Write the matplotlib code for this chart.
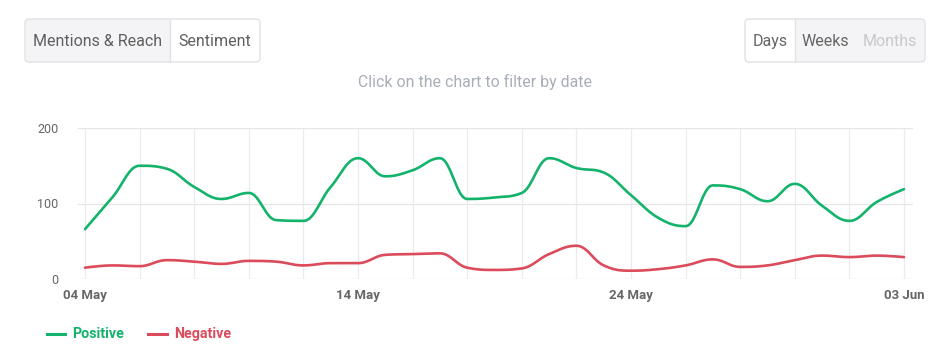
import numpy as np
import matplotlib
matplotlib.use("Agg")
import matplotlib.pyplot as plt
from matplotlib.patches import FancyBboxPatch, Rectangle

plt.rcParams['font.family'] = ['Roboto', 'DejaVu Sans']

# daily values, 04 May .. 03 Jun
days = np.arange(31)
positive = [66, 108, 150, 146, 122, 106, 114, 78, 77, 122, 160,
            136, 144, 160, 106, 108, 114, 160, 147, 141, 111,
            81, 70, 124, 119, 103, 126, 97, 77, 102, 119]
negative = [15, 18, 17, 25, 23, 20, 24, 23, 18, 21, 21,
            32, 33, 34, 15, 12, 14, 33, 44, 18, 11,
            13, 18, 26, 16, 18, 25, 31, 29, 31, 29]
tick_days = [0, 10, 20, 30]
tick_labels = ["04 May", "14 May", "24 May", "03 Jun"]
y_ticks = [0, 100, 200]

GREEN = "#14b36c"
RED = "#dc4b5b"


def spline(xs, ys, smoothing=1.5, n=24):
    # highcharts-like spline: bezier segments with smoothed control points
    xs = np.asarray(xs, float)
    ys = np.asarray(ys, float)
    m = len(xs)
    denom = smoothing + 1
    lc = [(xs[i], ys[i]) for i in range(m)]
    rc = [(xs[i], ys[i]) for i in range(m)]
    for i in range(1, m - 1):
        x, y = xs[i], ys[i]
        lx, ly = xs[i - 1], ys[i - 1]
        nx, ny = xs[i + 1], ys[i + 1]
        lcx = (smoothing * x + lx) / denom
        lcy = (smoothing * y + ly) / denom
        rcx = (smoothing * x + nx) / denom
        rcy = (smoothing * y + ny) / denom
        corr = (rcy - lcy) * (rcx - x) / (rcx - lcx) + y - rcy
        lcy += corr
        rcy += corr
        if lcy > ly and lcy > y:
            lcy = max(ly, y)
            rcy = 2 * y - lcy
        elif lcy < ly and lcy < y:
            lcy = min(ly, y)
            rcy = 2 * y - lcy
        if rcy > ny and rcy > y:
            rcy = max(ny, y)
            lcy = 2 * y - rcy
        elif rcy < ny and rcy < y:
            rcy = min(ny, y)
            lcy = 2 * y - rcy
        lc[i] = (lcx, lcy)
        rc[i] = (rcx, rcy)
    t = np.linspace(0, 1, n)[:, None]
    out = []
    for i in range(1, m):
        p0 = np.array([xs[i - 1], ys[i - 1]])
        p1 = np.array(rc[i - 1])
        p2 = np.array(lc[i])
        p3 = np.array([xs[i], ys[i]])
        seg = ((1 - t) ** 3) * p0 + 3 * ((1 - t) ** 2) * t * p1 + 3 * (1 - t) * t ** 2 * p2 + t ** 3 * p3
        out.append(seg if i == 1 else seg[1:])
    pts = np.vstack(out)
    return pts[:, 0], pts[:, 1]


W, H = 951, 358
fig = plt.figure(figsize=(W / 100, H / 100), dpi=100)

ax = fig.add_axes([78 / W, (H - 279) / H, (913 - 78) / W, 151 / H])
px = 27.3
ax.set_xlim(-7 / px, 30 + 9 / px)
ax.set_ylim(0, 200)

for d in range(0, 31, 2):
    ax.axvline(d, color="#ebebeb", lw=0.9, zorder=0)
for v in y_ticks:
    ax.axhline(v, color="#e6e6e6", lw=0.9, zorder=0)

gx, gy = spline(days, positive)
rx, ry = spline(days, negative)
ax.plot(gx, gy, color=GREEN, lw=1.9, solid_capstyle="round", zorder=3)
ax.plot(rx, ry, color=RED, lw=1.9, solid_capstyle="round", zorder=3)

for s in ax.spines.values():
    s.set_visible(False)
ax.set_xticks(tick_days)
ax.set_xticklabels(tick_labels, fontsize=9.5, fontweight="bold", color="#666666")
ax.set_yticks(y_ticks)
ax.set_yticklabels([str(v) for v in y_ticks], fontsize=9, color="#666666")
ax.tick_params(axis="x", length=0, pad=7)
ax.tick_params(axis="y", length=0, pad=14)

# overlay in pixel coordinates for the UI bits
ov = fig.add_axes([0, 0, 1, 1], zorder=-1)
ov.set_xlim(0, W)
ov.set_ylim(H, 0)
ov.axis("off")


def button_group(x0, x1, y0, y1, parts):
    for (a, b, label, bg, fg) in parts:
        ov.add_patch(Rectangle((a, y0), b - a, y1 - y0, facecolor=bg, edgecolor="none"))
        ov.text((a + b) / 2, (y0 + y1) / 2 + 1, label, ha="center", va="center",
                fontsize=11.5, color=fg)
    ov.add_patch(FancyBboxPatch((x0, y0), x1 - x0, y1 - y0,
                                boxstyle="round,pad=0,rounding_size=4",
                                facecolor="none", edgecolor="#e2e2e6", lw=1))


button_group(25, 260, 19, 62, [
    (26, 170, "Mentions & Reach", "#f4f4f6", "#5f5f5f"),
    (170, 259, "Sentiment", "white", "#5f5f5f"),
])
ov.plot([170, 170], [19, 62], color="#e2e2e6", lw=1)
button_group(745, 925, 19, 62, [
    (746, 795, "Days", "white", "#666666"),
    (795, 855, "Weeks", "#f4f4f6", "#666666"),
    (855, 924, "Months", "#f4f4f6", "#c8c8cc"),
])
ov.plot([795, 795], [19, 62], color="#e2e2e6", lw=1)

ov.text(475, 82, "Click on the chart to filter by date", ha="center", va="center",
        fontsize=11.4, color="#a8adb8")

# legend
ov.plot([47, 65], [334, 334], color=GREEN, lw=2.2)
ov.text(72, 334, "Positive", ha="left", va="center", fontsize=10.3,
        fontweight="bold", color=GREEN)
ov.plot([148, 167], [334, 334], color=RED, lw=2.2)
ov.text(174, 334, "Negative", ha="left", va="center", fontsize=10.3,
        fontweight="bold", color=RED)

fig.savefig("out.png", dpi=100)
